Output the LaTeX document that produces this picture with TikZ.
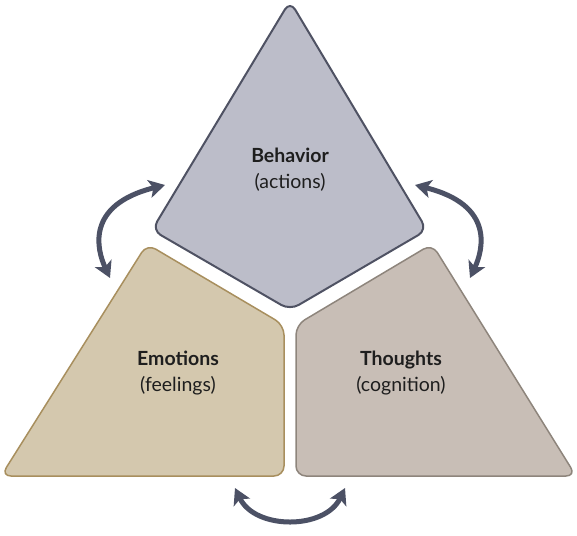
\documentclass[tikz,border=0pt]{standalone}
\usepackage{fontspec}
\setmainfont{Lato}
\usetikzlibrary{arrows.meta}

\definecolor{behfill}{HTML}{BCBDC9}
\definecolor{behline}{HTML}{4F5263}
\definecolor{emofill}{HTML}{D4C8AE}
\definecolor{emoline}{HTML}{A88F5E}
\definecolor{thofill}{HTML}{C8BEB6}
\definecolor{tholine}{HTML}{8E857C}
\definecolor{arr}{HTML}{4C5165}
\definecolor{txt}{HTML}{1E1E1E}

\begin{document}
\begin{tikzpicture}[x=1pt,y=1pt,>={Stealth[length=16pt,width=18pt,inset=4pt]},
        part/.style={line width=1.5pt,rounded corners=10pt,line join=round},
        parttext/.style={align=center,font=\fontsize{19.5}{26}\selectfont,text=txt},
        cyclearrow/.style={<->,line width=5pt,draw=arr}]

  \useasboundingbox (0,-535) rectangle (577,0);

  % the three parts
  \draw[part,fill=behfill,draw=behline,line width=2pt]
    (290,-1) -- (427,-230) -- (290,-310) -- (152,-230) -- cycle;
  \draw[part,fill=emofill,draw=emoline]
    (147,-244) -- (284,-325) -- (284,-476) -- (1,-476) -- cycle;
  \draw[part,fill=thofill,draw=tholine]
    (432,-244) -- (296,-325) -- (296,-476) -- (576,-476) -- cycle;

  \node[parttext] (behavior) at (290,-170) {\textbf{Behavior}\\(actions)};
  \node[parttext] (emotions) at (178,-373) {\textbf{Emotions}\\(feelings)};
  \node[parttext] (thoughts) at (401,-373) {\textbf{Thoughts}\\(cognition)};

  % arrow ends
  \coordinate (l_1) at (165,-185);
  \coordinate (l_2) at (110,-278);
  \coordinate (r_1) at (415,-185);
  \coordinate (r_2) at (470,-278);
  \coordinate (b_1) at (235,-488);
  \coordinate (b_2) at (345,-488);

  \draw[cyclearrow] (l_1) .. controls (85,-205) and (97,-250) .. (l_2);
  \draw[cyclearrow] (r_1) .. controls (495,-205) and (483,-250) .. (r_2);
  \draw[cyclearrow] (b_1) .. controls (255,-530) and (325,-530) .. (b_2);

\end{tikzpicture}
\end{document}
